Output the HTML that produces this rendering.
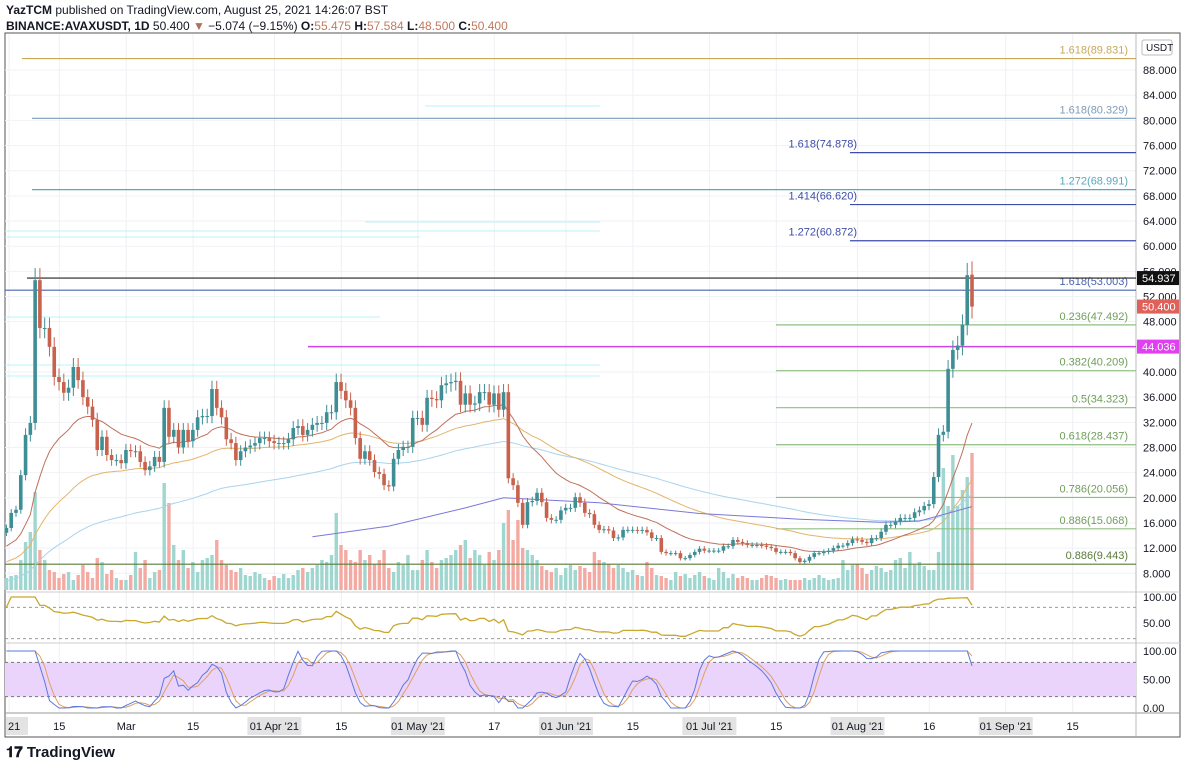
<!DOCTYPE html>
<html><head><meta charset="utf-8">
<style>
html,body{margin:0;padding:0;background:#fff;}
body{width:1186px;height:768px;overflow:hidden;font-family:"Liberation Sans",sans-serif;}
.hdr{position:absolute;left:6px;font-size:12px;color:#131722;white-space:nowrap;}
</style></head>
<body>
<div class="hdr" style="top:3px"><b>YazTCM</b> published on TradingView.com, August 25, 2021 14:26:07 BST</div>
<div class="hdr" style="top:19px"><b>BINANCE:AVAXUSDT, 1D</b> 50.400 <span style="color:#b0705a">▼</span> −5.074 (−9.15%) <b>O:</b><span style="color:#c07a60">55.475</span> <b>H:</b><span style="color:#c07a60">57.584</span> <b>L:</b><span style="color:#c07a60">48.500</span> <b>C:</b><span style="color:#c07a60">50.400</span></div>
<svg id="chart" width="1186" height="768" style="position:absolute;left:0;top:0" xmlns="http://www.w3.org/2000/svg"></svg>
<div style="position:absolute;left:6px;top:744px;font-size:15px;font-weight:bold;color:#131722">𝟏𝟕 TradingView</div>
<script>
const closes=[15.2,17.6,18.1,23.6,30,31.9,54.6,47,47,44,39.2,38.4,36.7,37.5,40.8,38.7,36,34.5,32.4,27.6,29.7,26.8,26,26,25.5,27.6,27.4,27.4,25.7,24.4,25,26.5,25.7,34.3,29.7,30.8,28,30.8,29,30.8,32.8,33,33,37.3,34.3,32.8,29.3,28.7,26,27.4,28,28.3,28.7,29.5,29.5,29,28.7,28.7,28.7,29.3,31.1,31.4,30,30.8,31.6,31.9,31.9,33.6,33.6,38.4,37,35.5,34.3,29.5,26.2,27.4,26,24.1,23.8,22,21.8,26.2,
27.6,28.1,28.1,32.7,32.7,31.6,35.9,35.7,35.5,37.9,38.2,38.4,38.6,34.8,36.6,34.8,35,36.8,36.8,34.8,36.6,34,36.8,23.1,22,19.2,15.7,19.3,19.5,20.8,19.3,16.8,16.5,16.5,18,18.4,18.4,20.1,19.2,17.6,17.4,15.7,14.9,15,14.8,13.6,13.7,14.9,14.9,14.9,14.8,14.9,14.5,13.6,13.6,11.4,11.2,11.2,11.2,10.4,10.4,10.9,11.4,11.9,11.6,11.6,11.6,11.6,12.3,12.3,13.3,13,12.8,12.5,12.5,12.5,12.4,12.2,12,11.4,
11.4,11.4,11.2,10.4,9.8,10,10.6,11.2,11.2,11.4,11.6,12,12.4,12.4,12.8,13.4,13.3,13,12.8,13.6,13.6,14.6,15.7,15.7,16.2,16.8,16.8,16.8,17.7,18,18.7,19,23.3,30,30.5,40.5,43.5,44.2,47.5,55.4,50.4];
const volumes=[12,14,15,30,48,58,98,40,30,20,18,12,16,18,10,15,25,18,12,32,28,16,20,12,10,10,15,38,22,30,12,18,20,107,87,45,30,40,22,28,18,30,32,35,50,30,25,20,18,22,15,14,18,16,12,10,14,12,16,12,15,20,22,18,22,25,30,28,35,77,45,40,30,28,40,30,35,26,30,40,22,18,28,
25,35,20,20,30,40,28,22,30,32,35,40,45,50,32,40,35,25,38,30,40,67,80,50,70,42,40,35,30,24,20,18,22,15,22,25,20,24,22,18,38,30,28,26,22,25,22,18,20,15,14,28,22,15,14,12,10,18,14,16,12,15,18,14,12,10,22,18,12,16,12,14,12,10,10,12,15,14,12,10,11,10,
10,10,12,10,12,15,12,10,11,12,30,20,25,26,22,16,20,24,22,18,20,30,32,22,38,25,28,24,20,20,38,122,84,135,84,100,113,137,71];
const ma200Idx=[64,80,96,104,124,145,166,183,191,202];
const ma200Val=[13.8,15.5,18.4,20,19.2,17.5,16.6,16.1,16.3,18.6];
const priceTicks=[8,12,16,20,24,28,32,36,40,48,52,56,60,64,68,72,76,80,84,88];
const timeLabels=["21","15","Mar","15","01 Apr '21","15","01 May '21","17","01 Jun '21","15","01 Jul '21","15","01 Aug '21","16","01 Sep '21","15"];
const timeDays=[-0.5,10,24,38,55,69,85,101,116,130,146,160,177,192,208,222];
const fibLevels=[
 {v:89.831,t:"1.618(89.831)",c:"#c9a85a",x0:22,lab:"r"},
 {v:80.329,t:"1.618(80.329)",c:"#7f9cb8",x0:32,lab:"r"},
 {v:74.878,t:"1.618(74.878)",c:"#3d4ca8",x0:850,lab:"l"},
 {v:68.991,t:"1.272(68.991)",c:"#5aa8c0",x0:32,lab:"r"},
 {v:66.620,t:"1.414(66.620)",c:"#3d4ca8",x0:850,lab:"l"},
 {v:60.872,t:"1.272(60.872)",c:"#3d4ca8",x0:850,lab:"l"},
 {v:53.003,t:"1.618(53.003)",c:"#4a64b4",x0:5,lab:"r"},
 {v:47.492,t:"0.236(47.492)",c:"#8fbf80",x0:776,lab:"r"},
 {v:40.209,t:"0.382(40.209)",c:"#8fbf80",x0:776,lab:"r"},
 {v:34.323,t:"0.5(34.323)",c:"#8fbf80",x0:776,lab:"r"},
 {v:28.437,t:"0.618(28.437)",c:"#8fbf80",x0:776,lab:"r"},
 {v:20.056,t:"0.786(20.056)",c:"#8fbf80",x0:776,lab:"r"},
 {v:15.068,t:"0.886(15.068)",c:"#8fbf80",x0:776,lab:"r"},
 {v:9.443,t:"0.886(9.443)",c:"#5a7a3a",x0:5,lab:"r"}];

const svg=document.getElementById('chart');
const NS="http://www.w3.org/2000/svg";
function el(tag,attrs,parent){const e=document.createElementNS(NS,tag);for(const k in attrs)e.setAttribute(k,attrs[k]);(parent||svg).appendChild(e);return e;}
const n=closes.length;
const PX=4.78, XR=1136;
function xi(i){return 972-(n-1-i)*PX;}
function xd(d){return 11.5+d*PX;}
function yp(p){return 372-(p-40)*6.29;}
function yr(v){return 649-(v/100)*52;}
function ys(v){return 708-(v/100)*57;}

el('rect',{x:5,y:33,width:1175,height:704,fill:'none',stroke:'#555','stroke-width':1});
for(const d of timeDays){const x=xd(d); if(x>5&&x<XR){const g=el('line',{x1:x,x2:x,y1:34,y2:713,stroke:'#eef0f5'});}}
for(const p of priceTicks){const g=el('line',{x1:5,x2:XR,y1:yp(p),y2:yp(p),stroke:'#f0f2f6'});}
el('line',{x1:5,x2:1180,y1:592,y2:592,stroke:'#ccc'});
el('line',{x1:5,x2:1180,y1:643,y2:643,stroke:'#ccc'});
el('line',{x1:5,x2:1180,y1:713,y2:713,stroke:'#999'});
el('line',{x1:XR,x2:XR,y1:34,y2:737,stroke:'#bbb'});

[[106,420,600],[222,360,600],[231,0,600],[237,0,420],[317,0,380],[365,0,600],[376,0,600]].forEach(a=>{const l=el('line',{x1:a[1]+5,x2:a[2],y1:a[0],y2:a[0],stroke:'#b8f4f8'});});

for(let i=0;i<n;i++){const o=i?closes[i-1]:closes[0]*0.95;const up=closes[i]>=o;const b=el('rect',{x:xi(i)-1.7,y:590-volumes[i],width:3.4,height:volumes[i],fill:up?'#9fd6cf':'#f3aaa3'});}

for(const f of fibLevels){const y=yp(f.v);const l=el('line',{x1:f.x0,x2:XR,y1:y,y2:y,stroke:f.c,'stroke-width':1.2});
 const t=el('text',{x:f.lab==='r'?1128:857,y:y-5,'font-size':11,fill:f.c==='#8fbf80'?'#6f9f5a':f.c,'text-anchor':'end'});t.textContent=f.t;}
let l1=el('line',{x1:27,x2:XR,y1:yp(54.937),y2:yp(54.937),stroke:'#222','stroke-width':1.2});
let l2=el('line',{x1:308,x2:XR,y1:yp(44.036),y2:yp(44.036),stroke:'#cc44e8','stroke-width':1.5});

function ema(per,seed){const k=2/(per+1);let v=seed;return closes.map(c=>(v=v+(c-v)*k));}
function poly(vals,color,w,name,yf,start){let pts=[];for(let i=start||0;i<vals.length;i++)if(vals[i]!=null)pts.push(xi(i).toFixed(1)+','+yf(vals[i]).toFixed(1));const p=el('polyline',{points:pts.join(' '),fill:'none',stroke:color,'stroke-width':w});}
poly(ema(100,6.6),'#a8d4ec',1,'ema-100',yp);
poly(ema(50,9.6),'#e3b46a',1,'ema-50',yp);
poly(ema(20,12),'#c0705a',1,'ema-20',yp);
{let pts=ma200Idx.map((ix,k)=>xi(ix).toFixed(1)+','+yp(ma200Val[k]).toFixed(1));const p=el('polyline',{points:pts.join(' '),fill:'none',stroke:'#7a78d8','stroke-width':1});}

for(let i=0;i<n;i++){let o=i?closes[i-1]:closes[0]*0.95,c=closes[i];let h=Math.max(o,c)*1.035,lo=Math.min(o,c)*0.965;if(i===n-1){o=55.475;h=57.584;lo=48.5;}
 const up=c>=o;const col=up?'#3e8e95':'#c8624c';const x=xi(i);
 const w=el('line',{x1:x,x2:x,y1:yp(h),y2:yp(lo),stroke:col,'stroke-width':1});
 const b=el('rect',{x:x-1.8,y:yp(Math.max(o,c)),width:3.6,height:Math.max(1,Math.abs(yp(o)-yp(c))),fill:col});}

const rsi=[];{let ag=0,al=0;for(let i=0;i<n;i++){if(i===0){rsi.push(80);continue;}const d=closes[i]-closes[i-1];const g=Math.max(d,0),ls=Math.max(-d,0);if(i<=14){ag+=g/14;al+=ls/14;}else{ag=(ag*13+g)/14;al=(al*13+ls)/14;}rsi.push(al===0?100:100-100/(1+ag/al));}}
el('line',{x1:5,x2:XR,y1:yr(80),y2:yr(80),stroke:'#999','stroke-dasharray':'3,3'});
el('line',{x1:5,x2:XR,y1:yr(20),y2:yr(20),stroke:'#999','stroke-dasharray':'3,3'});
poly(rsi,'#c9a82c',1.3,'rsi-line',yr);
const st=rsi.map((v,i)=>{const s=rsi.slice(Math.max(0,i-13),i+1);const mn=Math.min(...s),mx=Math.max(...s);return mx===mn?100:(v-mn)/(mx-mn)*100;});
const K=st.map((v,i)=>{const s=st.slice(Math.max(0,i-2),i+1);return s.reduce((a,b)=>a+b,0)/s.length;});
const D=K.map((v,i)=>{const s=K.slice(Math.max(0,i-2),i+1);return s.reduce((a,b)=>a+b,0)/s.length;});
let bg=el('rect',{x:5,y:ys(80),width:XR-5,height:ys(20)-ys(80),fill:'#ead4fb'});
el('line',{x1:5,x2:XR,y1:ys(80),y2:ys(80),stroke:'#777','stroke-dasharray':'3,3'});
el('line',{x1:5,x2:XR,y1:ys(20),y2:ys(20),stroke:'#777','stroke-dasharray':'3,3'});
poly(D,'#e0a060',1,'stoch-d',ys);
poly(K,'#5b78e0',1,'stoch-k',ys);

for(const p of priceTicks){const t=el('text',{x:1143,y:yp(p)+4,'font-size':11,fill:'#131722'});t.textContent=p.toFixed(3);}
[[100,yr(100)],[50,yr(50)]].forEach(a=>{const t=el('text',{x:1143,y:a[1]+4,'font-size':11,fill:'#131722'});t.textContent=a[0].toFixed(2);});
[100,50,0].forEach(v=>{const t=el('text',{x:1143,y:ys(v)+4,'font-size':11,fill:'#131722'});t.textContent=v.toFixed(2);});
function box(v,bgc,txt){const y=yp(v);el('rect',{x:1137,y:y-7,width:42,height:14,fill:bgc});const t=el('text',{x:1142,y:y+4,'font-size':11,fill:'#fff'});t.textContent=txt;}
box(54.937,'#111','54.937');box(50.4,'#e0605a','50.400');box(44.036,'#e040f0','44.036');
el('rect',{x:1142,y:40,width:30,height:15,fill:'#fff',stroke:'#bbb',rx:2});
{const t=el('text',{x:1146,y:51,'font-size':10,fill:'#131722'});t.textContent='USDT';}
timeLabels.forEach((s,k)=>{const x=xd(timeDays[k]);
 if(k===0){el('rect',{x:6,y:717,width:22,height:18,fill:'#e3e3e3'});}
 else if(s.startsWith('01')){el('rect',{x:x-27,y:717,width:54,height:18,fill:'#e3e3e3'});}
 const t=el('text',{x:k===0?8:x,y:730,'font-size':11,fill:'#131722','text-anchor':k===0?'start':'middle'});t.textContent=s;});
</script>
</body></html>
